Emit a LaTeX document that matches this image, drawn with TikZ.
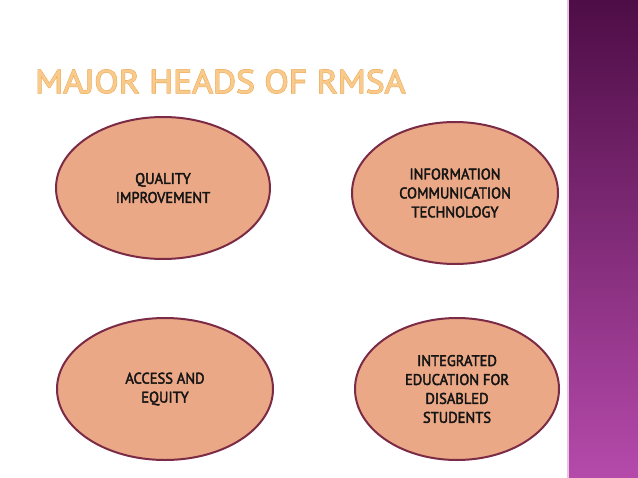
\documentclass[tikz,border=0pt]{standalone}
\usepackage{fontspec}
\usetikzlibrary{shapes.geometric}
\newfontfamily\lblfont[FakeStretch=0.94,FakeBold=2.6]{PT Sans}
\newfontfamily\titleoutfont[FakeStretch=1.08,FakeBold=3.5]{PT Sans}
\newfontfamily\titlefont[FakeStretch=1.08,FakeBold=0.8]{PT Sans}
\definecolor{ellfill}{HTML}{EBA886}
\definecolor{elldraw}{HTML}{7B2B45}
\definecolor{lbltext}{HTML}{151515}
\definecolor{striptop}{HTML}{4E0D46}
\definecolor{stripbot}{HTML}{B54AAB}
\definecolor{stripedge}{HTML}{EAC4E4}
\definecolor{titleout}{HTML}{EBA046}
\definecolor{titlecol}{HTML}{F8CB8C}
\tikzset{
  headbox/.style={ellipse, draw=elldraw, line width=2bp, fill=ellfill,
    inner sep=0pt, minimum height=142bp, align=center, text=lbltext,
    font=\lblfont\fontsize{15.5}{19}\selectfont},
  titlestyle/.style={inner sep=0pt, anchor=base west}
}
\begin{document}
\begin{tikzpicture}[x=1bp,y=-1bp]
\useasboundingbox (0,0) rectangle (638,478);
\fill[white] (0,0) rectangle (638,478);
% right strip
\shade[top color=striptop, bottom color=stripbot] (568,0) rectangle (638,478);
\fill[stripedge] (567,0) rectangle (569,478);
% title (outline, then inner fill)
\node[titlestyle, text=titleout, font=\titleoutfont\fontsize{33}{33}\selectfont] (titleo) at (35,93) {MAJOR HEADS OF RMSA};
\node[titlestyle, text=titlecol, font=\titlefont\fontsize{33}{33}\selectfont] (title) at (titleo.base west) {MAJOR HEADS OF RMSA};
% ellipses
\node[headbox, minimum width=214bp] (qi) at (163,188) {QUALITY\\IMPROVEMENT};
\node[headbox, minimum width=206bp] (ict) at (455,193) {INFORMATION\\COMMUNICATION\\TECHNOLOGY};
\node[headbox, minimum width=216bp] (ae) at (165,389) {ACCESS AND\\EQUITY};
\node[headbox, minimum width=204bp] (ied) at (457,389) {INTEGRATED\\EDUCATION FOR\\DISABLED\\STUDENTS};
\end{tikzpicture}
\end{document}
